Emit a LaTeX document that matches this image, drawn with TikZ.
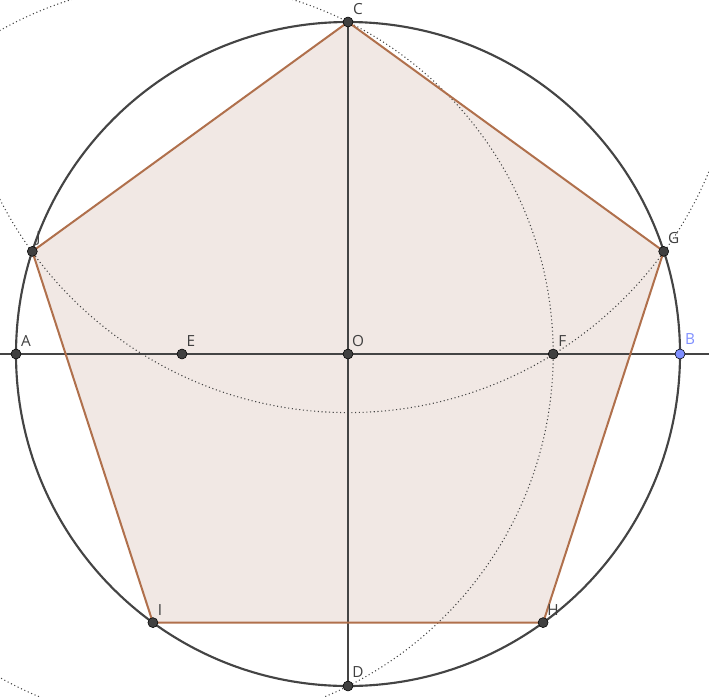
\documentclass[tikz,border=0pt]{standalone}
\usepackage{fontspec}
\setmainfont{Open Sans}
\usetikzlibrary{calc}
\definecolor{pfill}{HTML}{F1E8E4}
\definecolor{pline}{HTML}{B0704C}
\definecolor{gline}{HTML}{444444}
\definecolor{ptc}{HTML}{404040}
\definecolor{lblc}{HTML}{404040}
\definecolor{bpt}{HTML}{7F8FFF}
\begin{document}
\begin{tikzpicture}[x=0.75pt,y=-0.75pt,
  pt/.style={circle,fill=ptc,draw=black,line width=0.4pt,inner sep=0pt,minimum size=7.5pt},
  lbl/.style={text=lblc,font=\fontsize{11.5}{13}\selectfont,inner sep=0pt},
  construct/.style={line width=0.8pt,draw=gline,dash pattern=on 0.8pt off 2pt},
  main/.style={line width=1.6pt,draw=gline},
  edge/.style={line width=1.5pt,draw=pline,line join=round}]
\useasboundingbox (0,0) rectangle (709,696);
\clip (0,0) rectangle (709,696);
\coordinate (Oc) at (348,354);
\coordinate (Ac) at (16,354);
\coordinate (Bc) at (680,354);
\coordinate (Cc) at (348,22);
\coordinate (Dc) at (348,686);
\coordinate (Ec) at (182,354);
\coordinate (Fc) at (553.2,354);
\coordinate (Gc) at (663.7,251.4);
\coordinate (Jc) at (32.3,251.4);
\coordinate (Hc) at (543.1,622.6);
\coordinate (Ic) at (152.9,622.6);
\coordinate (Lft) at (0,354);
\coordinate (Rgt) at (709,354);
% pentagon fill
\fill[pfill] (Cc) -- (Gc) -- (Hc) -- (Ic) -- (Jc) -- cycle;
% construction arcs
\draw[construct] (Ec) circle[radius=278.4pt];
\draw[construct] (Cc) circle[radius=292.95pt];
% main circle and axes
\draw[main] (Oc) circle[radius=249pt];
\draw[main] (Lft) -- (Rgt);
\draw[main] (Cc) -- (Dc);
% pentagon
\draw[edge] (Cc) -- (Gc) -- (Hc) -- (Ic) -- (Jc) -- cycle;
% points
\node[pt] (O) at (Oc) {};
\node[pt] (A) at (Ac) {};
\node[pt,fill=bpt] (B) at (Bc) {};
\node[pt] (C) at (Cc) {};
\node[pt] (D) at (Dc) {};
\node[pt] (E) at (Ec) {};
\node[pt] (F) at (Fc) {};
\node[pt] (G) at (Gc) {};
\node[pt] (J) at (Jc) {};
\node[pt] (H) at (Hc) {};
\node[pt] (I) at (Ic) {};
% labels
\node[lbl] (lC) at ($(Cc)+(10,-13)$) {C};
\node[lbl] (lJ) at ($(Jc)+(6,-13)$) {J};
\node[lbl] (lG) at ($(Gc)+(10,-13)$) {G};
\node[lbl] (lA) at ($(Ac)+(10,-13)$) {A};
\node[lbl] (lE) at ($(Ec)+(9,-13)$) {E};
\node[lbl] (lO) at ($(Oc)+(10,-13)$) {O};
\node[lbl] (lF) at ($(Fc)+(9,-13)$) {F};
\node[lbl,text=bpt] (lB) at ($(Bc)+(10,-15)$) {B};
\node[lbl] (lI) at ($(Ic)+(7,-13)$) {I};
\node[lbl] (lH) at ($(Hc)+(10,-13)$) {H};
\node[lbl] (lD) at ($(Dc)+(10,-14)$) {D};
\end{tikzpicture}
\end{document}
